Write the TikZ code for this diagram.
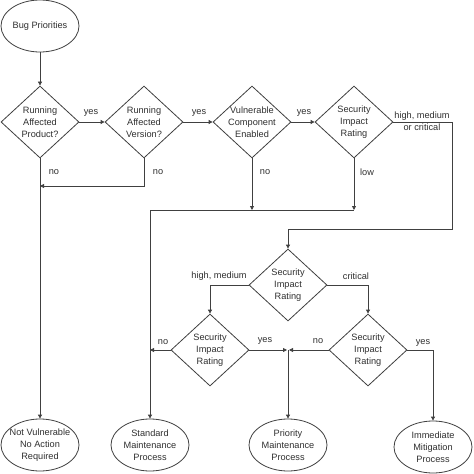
\documentclass[tikz,border=0pt]{standalone}
\usepackage{fontspec}
\setmainfont{Liberation Sans}
\usetikzlibrary{shapes.geometric,arrows.meta}
\definecolor{linec}{HTML}{404040}
\definecolor{textc}{HTML}{303030}
\begin{document}
\begin{tikzpicture}[x=1pt,y=-1pt,
  font=\fontsize{9.2}{12}\selectfont,
  line width=0.8pt,
  dia/.style={diamond, draw=linec, minimum width=78pt, minimum height=72pt, inner sep=0pt},
  ell/.style={ellipse, draw=linec, minimum width=78pt, minimum height=52pt, inner sep=0pt},
  txt/.style={align=center, text=textc, inner sep=0pt},
  arr/.style={draw=linec, -{Triangle[length=4pt,width=4pt]}},
  ln/.style={draw=linec},
  lbl/.style={text=textc, inner sep=0pt, align=center}]
\useasboundingbox (0,0) rectangle (474,474);
\fill[white] (0,0) rectangle (474,474);
% nodes
\node[ell, label={[txt]center:Bug Priorities}] (start) at (40,26) {};
\node[dia, label={[txt]center:Running\\Affected\\Product?}] (d1) at (40,122) {};
\node[dia, label={[txt]center:Running\\Affected\\Version?}] (d2) at (144,122) {};
\node[dia, label={[txt]center:Vulnerable\\Component\\Enabled}] (d3) at (252,122) {};
\node[dia, label={[txt]center:Security\\Impact\\Rating}] (d4) at (354,122) {};
\node[dia, label={[txt]center:Security\\Impact\\Rating}] (d5) at (288,285) {};
\node[dia, label={[txt]center:Security\\Impact\\Rating}] (d6) at (210,350) {};
\node[dia, label={[txt]center:Security\\Impact\\Rating}] (d7) at (368,350) {};
\node[ell, label={[txt]center:Not Vulnerable\\No Action\\Required}] (nv) at (40,445) {};
\node[ell, label={[txt]center:Standard\\Maintenance\\Process}] (std) at (150,445) {};
\node[ell, label={[txt]center:Priority\\Maintenance\\Process}] (pri) at (288,445) {};
\node[ell, label={[txt]center:Immediate\\Mitigation\\Process}] (imm) at (433,447) {};
% junction coordinates
\coordinate (j1) at (40,186);
\coordinate (m1) at (150,210);
\coordinate (m3) at (252,210);
\coordinate (m2) at (354,210);
\coordinate (c4) at (452,229);
\coordinate (c6l) at (150,350);
\coordinate (c6r) at (288,350);
% connectors
\draw[arr] (start) -- (d1);
\draw[arr] (d1) -- (d2);
\draw[arr] (d2) -- (d3);
\draw[arr] (d3) -- (d4);
\node[lbl] at (91,113) {yes};
\node[lbl] at (199,113) {yes};
\node[lbl] at (304,113) {yes};
\draw[arr] (d4.east) -| (c4) -| (d5.north);
\node[lbl] at (422,121) {high, medium\\or critical};
\draw[arr] (d1) -- (nv);
\node[lbl] at (54,172) {no};
\draw[arr] (d2.south) |- (j1);
\node[lbl] at (158,172) {no};
\draw[arr] (d3.south) -- (m3);
\node[lbl] at (265,172) {no};
\draw[arr] (d4.south) -- (m2);
\node[lbl] at (367,172) {low};
\draw[ln] (m1) -- (m2);
\draw[arr] (m1) -- (std);
\draw[arr] (d5.west) -| (d6.north);
\node[lbl] at (219,276) {high, medium};
\draw[arr] (d5.east) -| (d7.north);
\node[lbl] at (356,276) {critical};
\draw[arr] (d6.west) -- (c6l);
\node[lbl] at (163,342) {no};
\draw[arr] (d6.east) -- ([xshift=-1pt]c6r);
\node[lbl] at (265,341) {yes};
\draw[arr] (d7.west) -- ([xshift=1pt]c6r);
\node[lbl] at (318,341) {no};
\draw[arr] (c6r) -- (pri);
\draw[arr] (d7.east) -| (imm.north);
\node[lbl] at (423,343) {yes};
\end{tikzpicture}
\end{document}
